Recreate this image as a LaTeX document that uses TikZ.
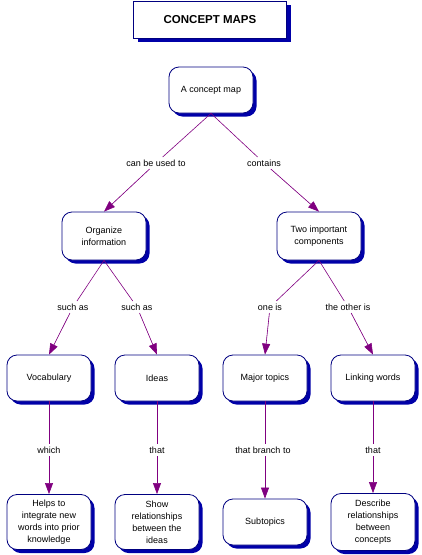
\documentclass[tikz,border=0pt]{standalone}
\usepackage{fontspec}
\setmainfont{Liberation Sans}
\usepackage{tikz}
\usetikzlibrary{arrows.meta,shadows}
\definecolor{boxline}{HTML}{000080}
\definecolor{boxshade}{HTML}{0000A8}
\definecolor{linkcol}{HTML}{800080}

\begin{document}
\begin{tikzpicture}[
  x=1pt, y=-1pt,
  every node/.style={font=\fontsize{9}{12}\selectfont},
  concept/.style={draw=boxline, line width=0.8pt, fill=white, rounded corners=10pt,
    minimum width=84pt, minimum height=46pt, align=center,
    drop shadow={shadow xshift=3.5pt, shadow yshift=-3.5pt, fill=boxshade, opacity=1}},
  heading/.style={draw=boxline, line width=1.2pt, fill=white, minimum width=153pt,
    minimum height=37pt, font=\fontsize{11.5}{14}\selectfont\bfseries,
    drop shadow={shadow xshift=4pt, shadow yshift=-3.5pt, fill=boxshade, opacity=1}},
  linklabel/.style={inner sep=2.5pt},
  link/.style={draw=linkcol, line width=0.6pt},
  arrowlink/.style={link, -{Triangle[length=11pt,width=8pt]}, fill=linkcol}
]
\useasboundingbox (0,0) rectangle (422,555);

\node[heading] (title) at (210,20) {CONCEPT MAPS};

\node[concept] (map)   at (211,90)  {A concept map};
\node[concept, minimum height=48pt] (org) at (104,236) {Organize\\information};
\node[concept, minimum height=48pt] (two) at (319,236) {Two important\\components};

\node[concept] (vocab) at (49,378)  {Vocabulary};
\node[concept] (ideas) at (157,378) {Ideas};
\node[concept] (major) at (265,378) {Major topics};
\node[concept] (words) at (373,378) {Linking words};

\node[concept, minimum height=55pt] (helps) at (49,522)  {Helps to\\integrate new\\words into prior\\knowledge};
\node[concept, minimum height=55pt] (show)  at (157,522) {Show\\relationships\\between the\\ideas};
\node[concept] (subs)  at (265,522) {Subtopics};
\node[concept, minimum height=57pt] (desc)  at (373,522) {Describe\\relationships\\between\\concepts};

\node[linklabel] (usedto)   at (156,163) {can be used to};
\node[linklabel] (contains) at (264,163) {contains};
\node[linklabel] (suchA)    at (73,307)  {such as};
\node[linklabel] (suchB)    at (137,307) {such as};
\node[linklabel] (oneis)    at (270,307) {one is};
\node[linklabel] (otheris)  at (348,307) {the other is};
\node[linklabel] (which)    at (49,450)  {which};
\node[linklabel] (thatA)    at (157,450) {that};
\node[linklabel] (branch)   at (263,450) {that branch to};
\node[linklabel] (thatB)    at (373,450) {that};

\draw[link] (map.south) -- (usedto);
\draw[arrowlink] (usedto) -- (org.north);
\draw[link] (map.south) -- (contains);
\draw[arrowlink] (contains) -- (two.north);

\draw[link] (org.south) -- (suchA);
\draw[arrowlink] (suchA) -- (vocab.north);
\draw[link] (org.south) -- (suchB);
\draw[arrowlink] (suchB) -- (ideas.north);
\draw[link] (two.south) -- (oneis);
\draw[arrowlink] (oneis) -- (major.north);
\draw[link] (two.south) -- (otheris);
\draw[arrowlink] (otheris) -- (words.north);

\draw[link] (vocab.south) -- (which);
\draw[arrowlink] (which) -- (helps.north);
\draw[link] (ideas.south) -- (thatA);
\draw[arrowlink] (thatA) -- (show.north);
\draw[link] (major.south) -- (major.south |- branch.north);
\draw[arrowlink] (major.south |- branch.south) -- (subs.north);
\draw[link] (words.south) -- (thatB);
\draw[arrowlink] (thatB) -- (desc.north);
\end{tikzpicture}
\end{document}
